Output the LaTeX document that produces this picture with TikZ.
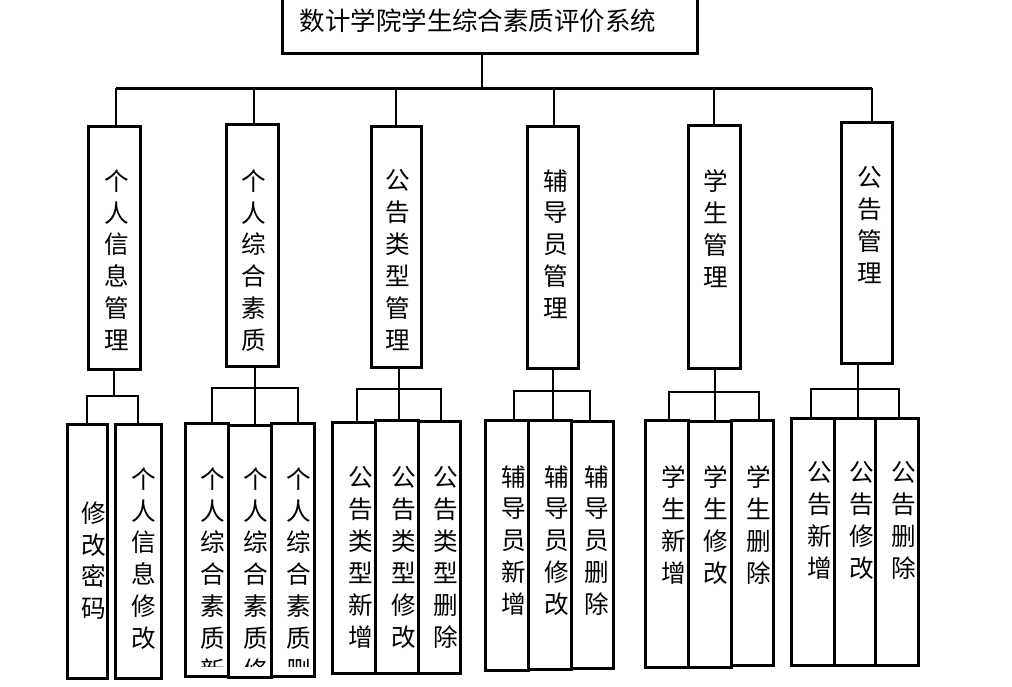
\documentclass[tikz,border=0pt]{standalone}
\usepackage{fontspec}
\newfontfamily\cjk{Noto Sans CJK SC}
\usetikzlibrary{fit}
\begin{document}
\begin{tikzpicture}[x=0.02cm,y=-0.02cm,
  box/.style={draw,line width=0.06cm,inner sep=0pt},
  vtext/.style={anchor=north,align=center,inner sep=0pt,font=\cjk\fontsize{14}{18.2}\selectfont},
  link/.style={line width=0.04cm}]
\useasboundingbox (0,0) rectangle (1012,687);
% top
\node[box,fit={(282,-5) (697,53)}] (top) {};
\node[font=\cjk\fontsize{14.5}{17}\selectfont] (title) at (478,21) {数计学院学生综合素质评价系统};
% second row
\node[box,fit={(88,126) (140,369)}] (b1) {};
\node[box,fit={(226,124) (278,366)}] (b2) {};
\node[box,fit={(371,126) (421,367)}] (b3) {};
\node[box,fit={(527,126) (578,368)}] (b4) {};
\node[box,fit={(688,125) (740,368)}] (b5) {};
\node[box,fit={(841,122) (892,363)}] (b6) {};
\node[vtext] (t1) at (117,169) {个\\人\\信\\息\\管\\理};
\node[vtext] (t2) at (254,169) {个\\人\\综\\合\\素\\质};
\node[vtext] (t3) at (398,169) {公\\告\\类\\型\\管\\理};
\node[vtext] (t4) at (556,169) {辅\\导\\员\\管\\理};
\node[vtext] (t5) at (716,169) {学\\生\\管\\理};
\node[vtext] (t6) at (870,166) {公\\告\\管\\理};
% third row
\node[box,fit={(67,424) (107,678)}] (c11) {};
\node[box,fit={(115,424) (161,678)}] (c12) {};
\node[box,fit={(185,423) (228,676)}] (c21) {};
\node[box,fit={(228,425) (271,677)}] (c22) {};
\node[box,fit={(271,423) (314,676)}] (c23) {};
\node[box,fit={(332,422) (375,673)}] (c31) {};
\node[box,fit={(375,420) (418,673)}] (c32) {};
\node[box,fit={(418,421) (460,673)}] (c33) {};
\node[box,fit={(485,420) (528,670)}] (c41) {};
\node[box,fit={(528,420) (571,669)}] (c42) {};
\node[box,fit={(571,421) (613,668)}] (c43) {};
\node[box,fit={(645,420) (688,667)}] (c51) {};
\node[box,fit={(688,421) (731,667)}] (c52) {};
\node[box,fit={(731,420) (773,665)}] (c53) {};
\node[box,fit={(791,418) (834,665)}] (c61) {};
\node[box,fit={(834,418) (875,665)}] (c62) {};
\node[box,fit={(875,418) (918,665)}] (c63) {};
\node[vtext] (s11) at (94,501) {修\\改\\密\\码};
\node[vtext] (s12) at (144,467) {个\\人\\信\\息\\修\\改};
\begin{scope}
\clip (185,423) rectangle (314,666);
\node[vtext] (s21) at (213,467) {个\\人\\综\\合\\素\\质\\新\\增};
\node[vtext] (s22) at (256,467) {个\\人\\综\\合\\素\\质\\修\\改};
\node[vtext] (s23) at (299,467) {个\\人\\综\\合\\素\\质\\删\\除};
\end{scope}
\node[vtext] (s31) at (361,466) {公\\告\\类\\型\\新\\增};
\node[vtext] (s32) at (404,466) {公\\告\\类\\型\\修\\改};
\node[vtext] (s33) at (446,466) {公\\告\\类\\型\\删\\除};
\node[vtext] (s41) at (514,465) {辅\\导\\员\\新\\增};
\node[vtext] (s42) at (557,465) {辅\\导\\员\\修\\改};
\node[vtext] (s43) at (597,465) {辅\\导\\员\\删\\除};
\node[vtext] (s51) at (674,465) {学\\生\\新\\增};
\node[vtext] (s52) at (716,465) {学\\生\\修\\改};
\node[vtext] (s53) at (759,465) {学\\生\\删\\除};
\node[vtext] (s61) at (820,461) {公\\告\\新\\增};
\node[vtext] (s62) at (862,461) {公\\告\\修\\改};
\node[vtext] (s63) at (904,461) {公\\告\\删\\除};
% connectors
\coordinate (bar) at (0,88);
\draw[line width=0.06cm] ([xshift=0.04cm]b1.north |- bar) -- ([xshift=0.11cm]b6.north |- bar);
\draw[link] ([xshift=-0.15cm]top.south) -- ([xshift=-0.15cm]top.south |- bar);
\foreach \b/\s in {b1/0.04,b2/0.04,b3/0,b4/0.03,b5/0,b6/0.11}
  \draw[link] ([xshift=\s cm]\b.north) -- ([xshift=\s cm]\b.north |- bar);
\coordinate (k1) at (0,396);
\draw[link] (b1.south) -- (b1.south |- k1);
\draw[link] (c11.north) -- (c11.north |- k1) -- (c12.north |- k1) -- (c12.north);
\coordinate (k2) at (0,388);
\coordinate (k3) at (0,389);
\coordinate (k4) at (0,391);
\coordinate (k5) at (0,392);
\coordinate (k6) at (0,389);
\foreach \g/\p/\l/\r in {2/0.06/0.11/0.11,3/0.06/0.07/0.04,4/0.01/0.15/-0.04,5/0.02/0.05/0.14,6/-0.17/-0.03/0.05} {
  \draw[link] ([xshift=\p cm]b\g.south) -- ([xshift=\p cm]b\g.south |- c\g2.north);
  \draw[link] ([xshift=\l cm]c\g1.north) -- ([xshift=\l cm]c\g1.north |- k\g)
    -- ([xshift=\r cm]c\g3.north |- k\g) -- ([xshift=\r cm]c\g3.north);
}
\end{tikzpicture}
\end{document}
